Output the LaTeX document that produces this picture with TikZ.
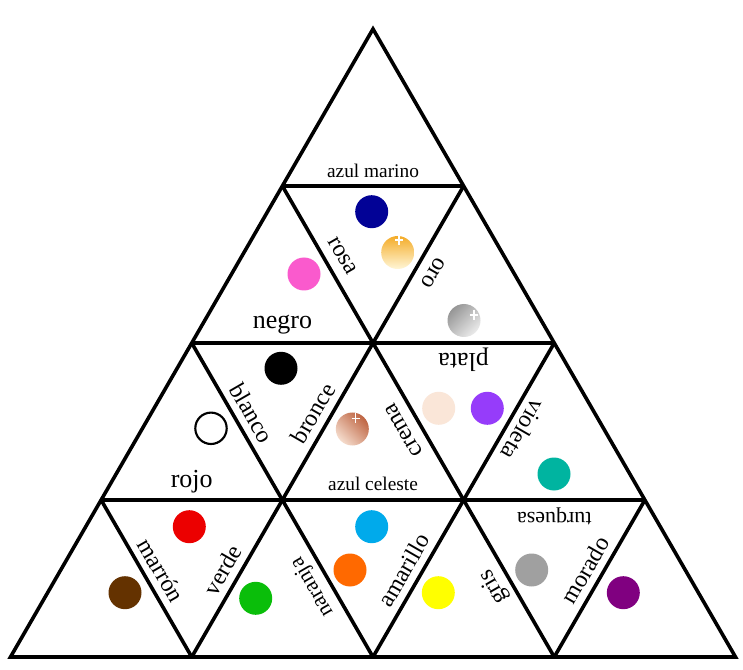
\documentclass[tikz,border=0pt]{standalone}
\usepackage{fontspec}
\setmainfont{Liberation Serif}
\definecolor{cnavy}{RGB}{2,2,150}
\definecolor{cpink}{RGB}{250,90,205}
\definecolor{ccream}{RGB}{250,230,216}
\definecolor{cviolet}{RGB}{150,60,250}
\definecolor{cteal}{RGB}{0,180,160}
\definecolor{cred}{RGB}{236,0,0}
\definecolor{cbrown}{RGB}{100,50,0}
\definecolor{cgreen}{RGB}{10,190,10}
\definecolor{csky}{RGB}{0,170,235}
\definecolor{corange}{RGB}{255,105,0}
\definecolor{cyellow}{RGB}{255,255,0}
\definecolor{cgray}{RGB}{160,160,160}
\definecolor{cpurple}{RGB}{128,0,128}
\definecolor{cgoldA}{RGB}{244,172,40}
\definecolor{cgoldB}{RGB}{255,246,215}
\definecolor{csilA}{RGB}{150,150,150}
\definecolor{csilB}{RGB}{235,235,235}
\definecolor{cbrzA}{RGB}{190,100,65}
\definecolor{cbrzB}{RGB}{245,220,205}
\begin{document}
\begin{tikzpicture}[x=0.75pt,y=-0.75pt,
  grid/.style={line width=2.7pt,black},
  lbl/.style={font=\fontsize{19.5}{20}\selectfont,inner sep=0pt},
  lblsl/.style={font=\fontsize{18}{19}\selectfont,inner sep=0pt},
  lblmid/.style={font=\fontsize{16.5}{17}\selectfont,inner sep=0pt},
  lblsm/.style={font=\fontsize{14.5}{15}\selectfont,inner sep=0pt},
  spark/.style={white,line width=0.8pt}]
\fill[white] (0,0) rectangle (743,670);
\useasboundingbox (0,0) rectangle (743,670);
% grid vertices
\coordinate (v00) at (373,29);
\coordinate (v10) at (282.375,186);
\coordinate (v11) at (463.625,186);
\coordinate (v20) at (191.75,343);
\coordinate (v21) at (373,343);
\coordinate (v22) at (554.25,343);
\coordinate (v30) at (101.125,500);
\coordinate (v31) at (282.375,500);
\coordinate (v32) at (463.625,500);
\coordinate (v33) at (644.875,500);
\coordinate (v40) at (10.5,657);
\coordinate (v41) at (191.75,657);
\coordinate (v42) at (373,657);
\coordinate (v43) at (554.25,657);
\coordinate (v44) at (735.5,657);
% circles
\fill[cnavy] (371.7,211.7) circle (16.5);
\shade[top color=cgoldA,bottom color=cgoldB] (397.7,252.5) circle (16.5);
\fill[cpink] (304,274) circle (16.5);
\shade[top color=csilA,bottom color=csilB,shading angle=45] (464,320.5) circle (16.5);
\fill[black] (281,368.3) circle (16.5);
\draw[line width=1.6pt] (211,428.3) circle (15.7);
\shade[top color=cbrzA,bottom color=cbrzB,shading angle=-45] (352.3,429) circle (16.5);
\fill[ccream] (438.7,408.3) circle (16.5);
\fill[cviolet] (487.3,408.3) circle (16.5);
\fill[cteal] (554,474) circle (16.5);
\fill[cred] (189.3,526.7) circle (16.5);
\fill[cbrown] (125,592.7) circle (16.5);
\fill[cgreen] (255.7,598.3) circle (16.5);
\fill[csky] (371.7,526.7) circle (16.5);
\fill[corange] (350,570) circle (16.5);
\fill[cyellow] (438.3,592.7) circle (16.5);
\fill[cgray] (531.7,570) circle (16.5);
\fill[cpurple] (623.3,592.7) circle (16.5);
% sparkles
\draw[spark] (395,240) -- (403,240) (399,235) -- (399,245);
\draw[spark] (470,315) -- (478,315) (474,310) -- (474,320);
\draw[spark] (351.7,418.3) -- (359.7,418.3) (355.7,413.3) -- (355.7,423.3);
% grid lines
\draw[grid] (v00) -- (v40) -- (v44) -- cycle;
\draw[grid] (v10) -- (v11);
\draw[grid] (v20) -- (v22);
\draw[grid] (v30) -- (v33);
\draw[grid] (v41) -- (v11);
\draw[grid] (v42) -- (v22);
\draw[grid] (v43) -- (v33);
\draw[grid] (v43) -- (v10);
\draw[grid] (v42) -- (v20);
\draw[grid] (v41) -- (v30);
% labels
\node[lblsm] (tmarino) at (373,171) {azul marino};
\node[lblsl,rotate=-60] (trosa) at (342.4,256) {rosa};
\node[lblsl,rotate=-120] (toro) at (433,273) {oro};
\node[lbl] (tnegro) at (282.4,325) {negro};
\node[lbl,rotate=180] (tplata) at (463.6,360) {plata};
\node[lblsl,rotate=-60] (tblanco) at (251.8,413) {blanco};
\node[lblsl,rotate=60] (tbronce) at (313,413) {bronce};
\node[lblsl,rotate=120] (tcrema) at (403.6,430) {crema};
\node[lblsl,rotate=-120] (tvioleta) at (523.6,430) {violeta};
\node[lbl] (trojo) at (191.75,482) {rojo};
\node[lblsm] (tceleste) at (373,484) {azul celeste};
\node[lblmid,rotate=180] (tturquesa) at (554.25,516) {turquesa};
\node[lblsl,rotate=-60] (tmarron) at (161.1,570) {marrón};
\node[lblsl,rotate=60] (tverde) at (222.4,570) {verde};
\node[lblmid,rotate=120] (tnaranja) at (313,587) {naranja};
\node[lblsl,rotate=60] (tamarillo) at (403.6,570) {amarillo};
\node[lblsl,rotate=120] (tgris) at (494.2,587) {gris};
\node[lblsl,rotate=60] (tmorado) at (584.9,570) {morado};
\end{tikzpicture}
\end{document}
